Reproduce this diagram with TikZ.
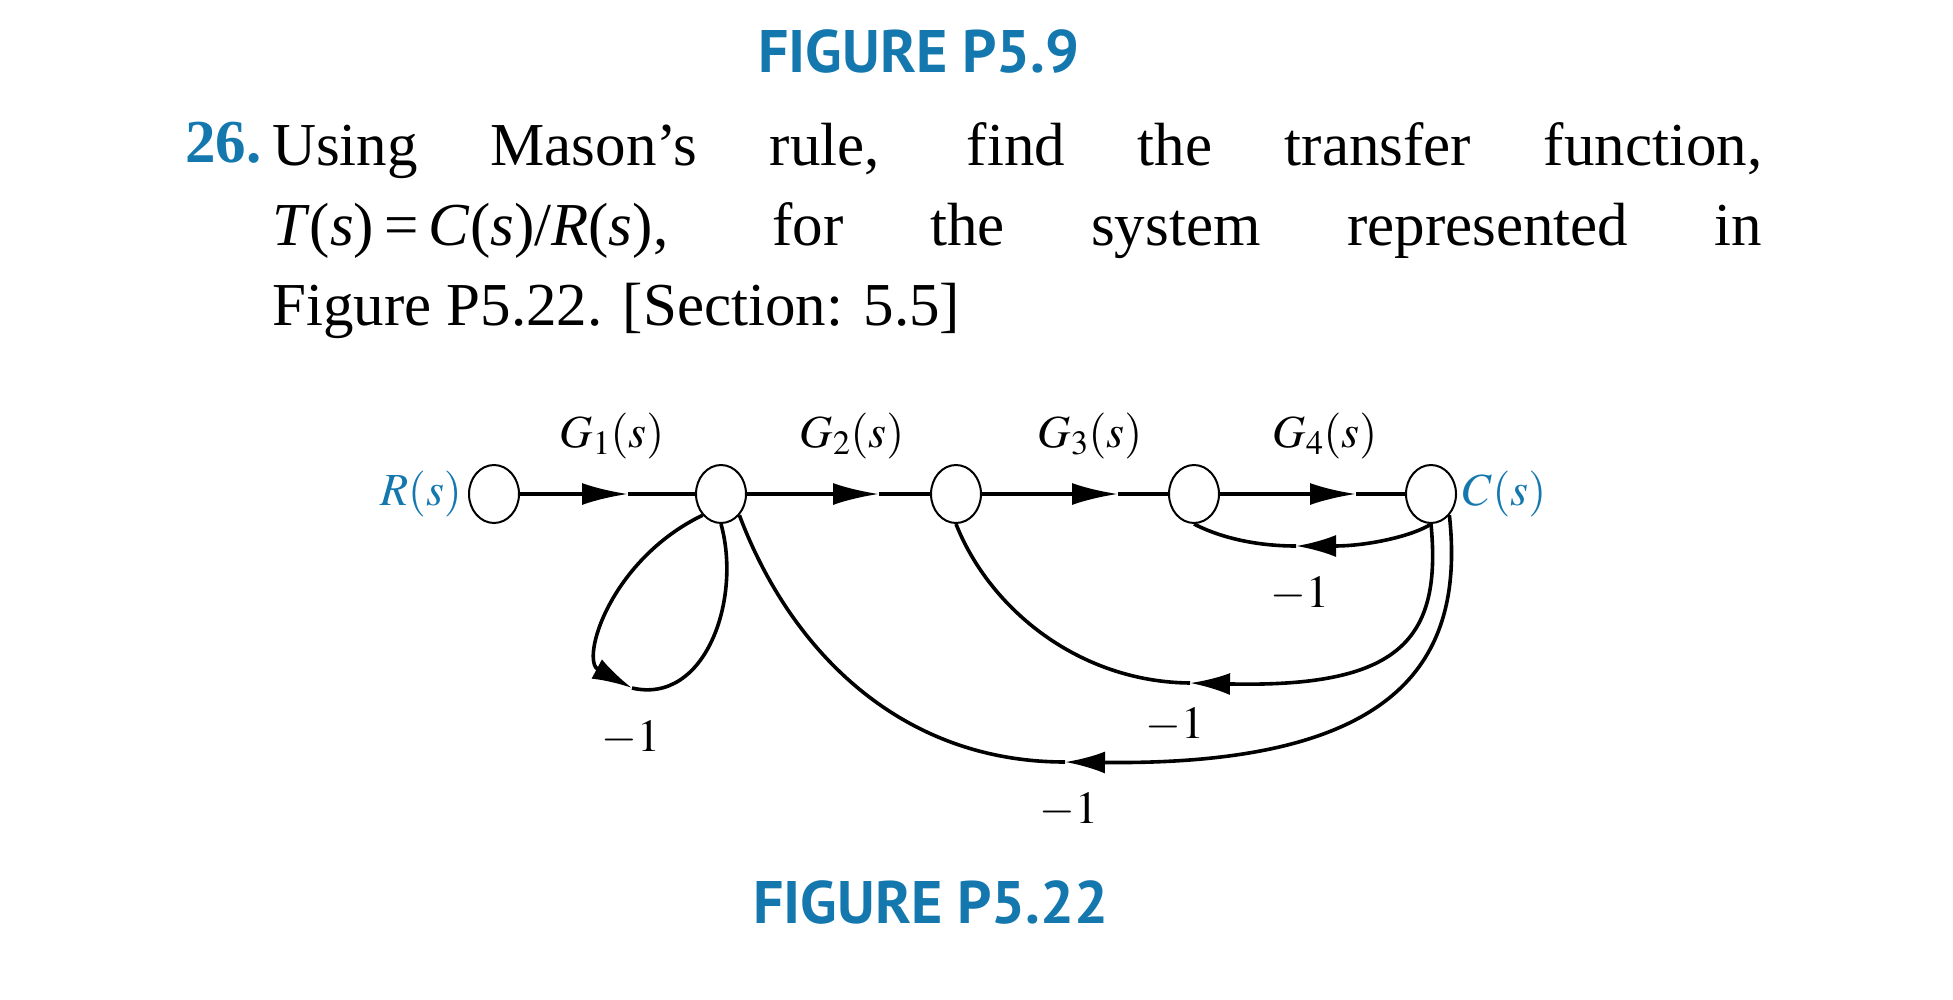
\documentclass[tikz,border=0pt]{standalone}
\usepackage{mathptmx}
\usepackage{fontspec}
\setmainfont{Liberation Serif}
\newfontfamily\headfont{PT Sans}
\usetikzlibrary{arrows.meta,shapes.geometric}
\definecolor{pblue}{RGB}{20,120,175}
\tikzset{
  nd/.style={draw,ellipse,minimum width=50pt,minimum height=58pt,inner sep=0pt,line width=2pt,fill=white},
  br/.style={line width=3.6pt},
  arr/.style={line width=3.6pt,-{Latex[length=46pt,width=22pt]}},
  fb/.style={line width=3.6pt},
  fba/.style={line width=3.6pt,-{Latex[length=40pt,width=22pt]}},
  lbl/.style={font=\fontsize{46}{50}\selectfont},
  head/.style={font=\headfont\bfseries\fontsize{60}{66}\selectfont,text=pblue}
}
\begin{document}
\begin{tikzpicture}[x=1pt,y=-1pt]
\useasboundingbox (0,0) rectangle (1953,1000);
\node[head] (h1) at (919,52) {FIGURE P5.9};
\node[head] (h2) at (931,902) {FIGURE P5.22};
\node[anchor=north west,inner sep=0pt,text width=1490pt,align=justify,font=\fontsize{61}{80}\selectfont] (txt) at (272,122)
 {Using Mason's rule, find the transfer function,\linebreak
  \textit{T}(\textit{s})\,=\,\textit{C}(\textit{s})/\textit{R}(\textit{s}), for the system represented in\linebreak
  Figure P5.22. [Section: 5.5]};
\node[anchor=north east,inner sep=0pt,font=\bfseries\fontsize{61}{80}\selectfont,text=pblue] (num) at (txt.north west) {26.\,};
% nodes
\node[nd] (R) at (494,494) {};
\node[nd] (n2) at (721,494) {};
\node[nd] (n3) at (956,494) {};
\node[nd] (n4) at (1194,494) {};
\node[nd] (C) at (1431,494) {};
\node[lbl,text=pblue,anchor=east,inner sep=6pt] (Rl) at (R.west) {$R(s)$};
\node[lbl,text=pblue,anchor=west,inner sep=6pt] (Cl) at (C.east) {$C(s)$};
\coordinate (m1) at (628,494);
\coordinate (m2) at (879,494);
\coordinate (m3) at (1118,494);
\coordinate (m4) at (1356,494);
\draw[arr] (R) -- (m1); \draw[br] (m1) -- (n2);
\draw[arr] (n2) -- (m2); \draw[br] (m2) -- (n3);
\draw[arr] (n3) -- (m3); \draw[br] (m3) -- (n4);
\draw[arr] (n4) -- (m4); \draw[br] (m4) -- (C);
\node[lbl] (g1) at (612,436) {$G_1(s)$};
\node[lbl] (g2) at (852,436) {$G_2(s)$};
\node[lbl] (g3) at (1090,436) {$G_3(s)$};
\node[lbl] (g4) at (1325,436) {$G_4(s)$};
% feedback C->n4
\coordinate (a1) at (1296,546);
\draw[fba] (C.south) .. controls (1415,535) and (1370,546) .. (a1);
\draw[fb] (a1) .. controls (1250,546) and (1215,535) .. (n4.south);
\node[lbl] (l1) at (1300,594) {$-1$};
% feedback C->n3
\coordinate (a2) at (1190,683);
\draw[fba] (C.south) .. controls (1442,640) and (1400,688) .. (a2);
\draw[fb] (a2) .. controls (1080,682) and (990,610) .. (n3.south);
\node[lbl] (l2) at (1175,725) {$-1$};
% feedback C->n2
\coordinate (a3) at (1065,762);
\draw[fba] (C.south east) .. controls (1465,660) and (1400,766) .. (a3);
\draw[fb] (a3) .. controls (900,762) and (790,650) .. (n2.south east);
\node[lbl] (l3) at (1069,810) {$-1$};
% self loop at n2
\coordinate (a4) at (632,688);
\draw[fba] (n2.south west) .. controls (610,560) and (580,660) .. (a4);
\draw[fb] (a4) .. controls (705,705) and (742,600) .. (n2.south);
\node[lbl] (l4) at (631,738) {$-1$};
\end{tikzpicture}
\end{document}
